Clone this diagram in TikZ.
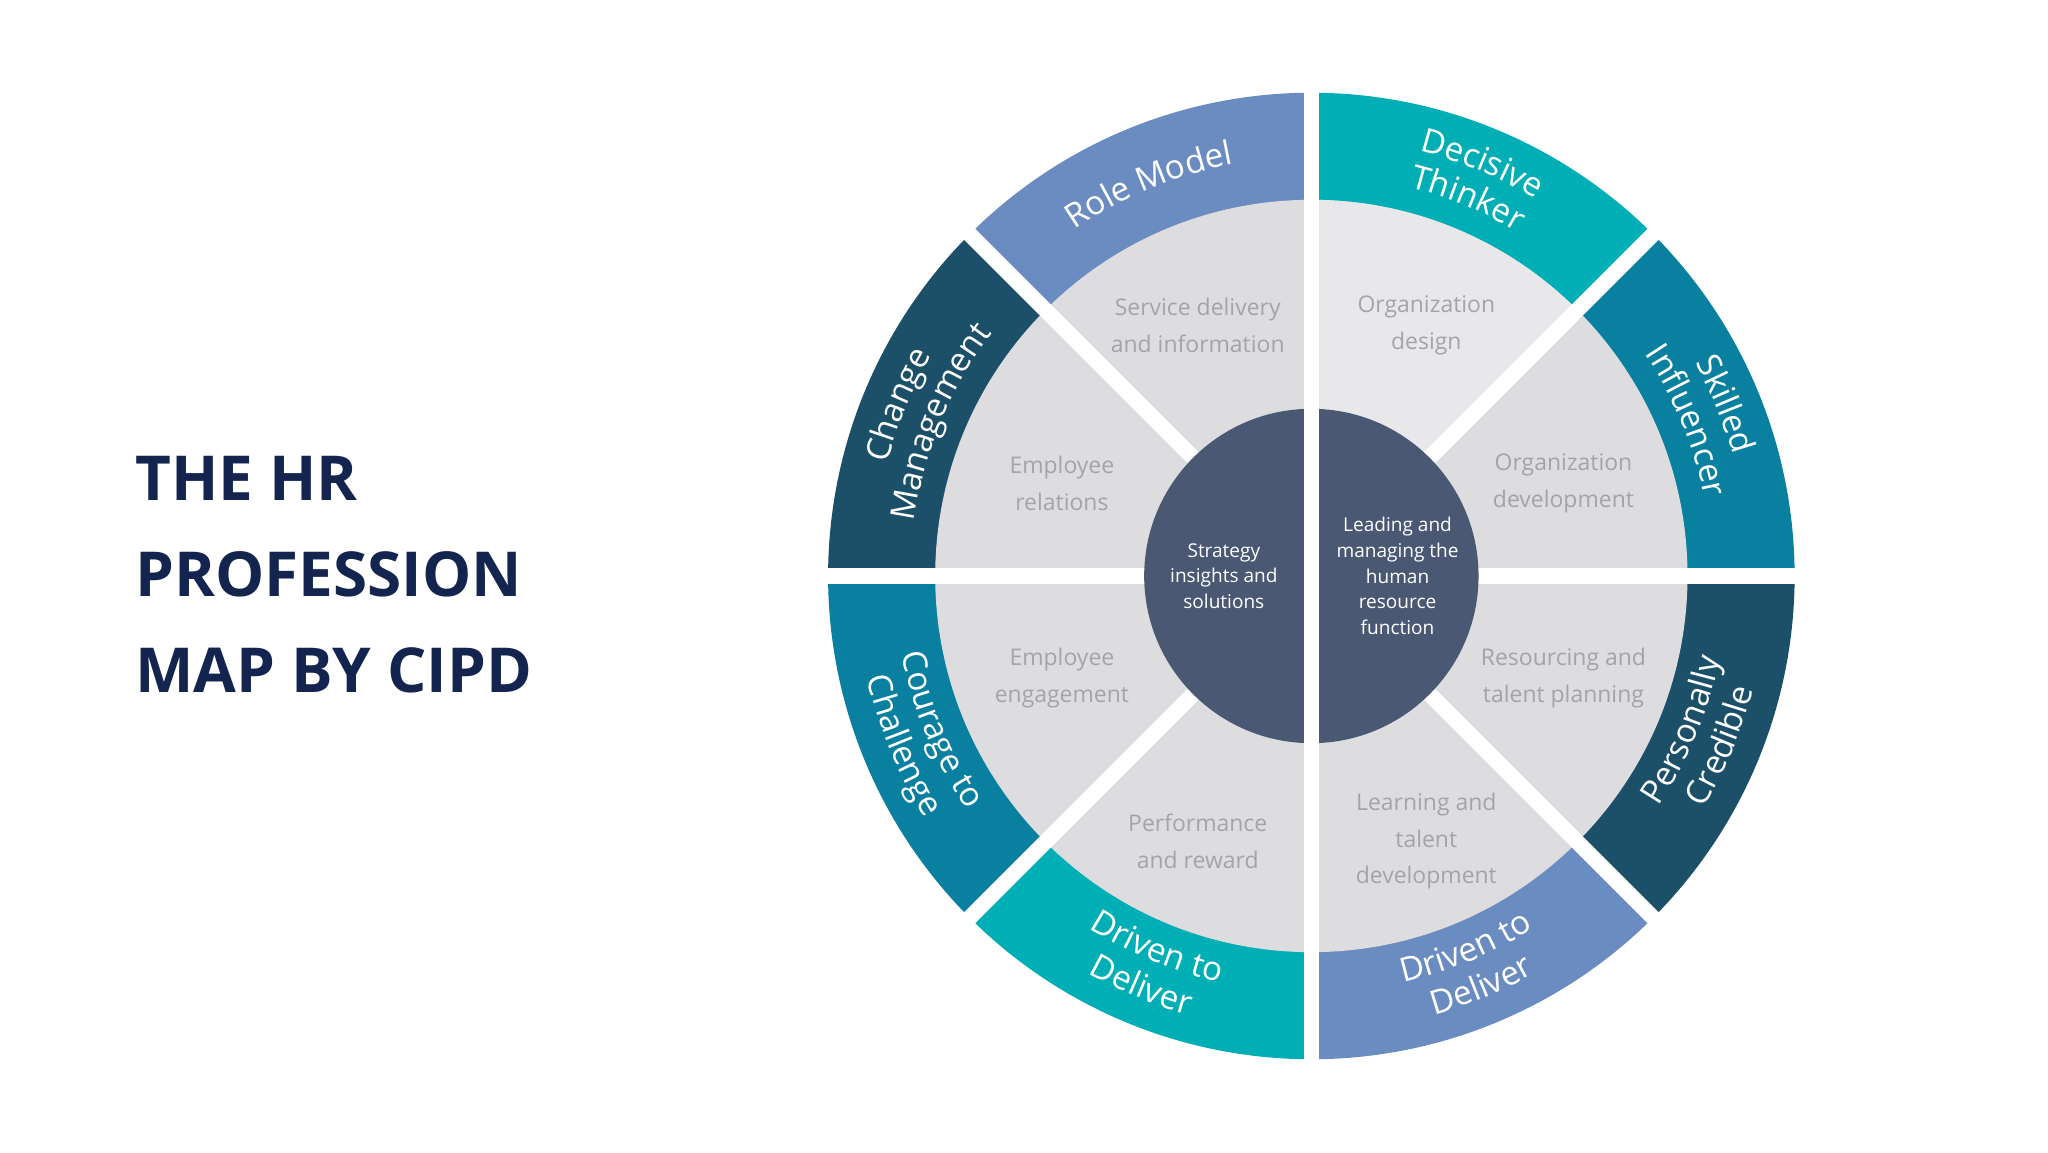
\documentclass[tikz,border=0pt]{standalone}
\usepackage{fontspec}
\setmainfont{Open Sans}
\usetikzlibrary{decorations.text,calc}
\definecolor{cRole}{HTML}{6B8CC0}
\definecolor{cDark}{HTML}{1B5068}
\definecolor{cMid}{HTML}{0A80A0}
\definecolor{cTeal}{HTML}{00AFB5}
\definecolor{cGray}{HTML}{DDDDE0}
\definecolor{cGrayL}{HTML}{E8E8EA}
\definecolor{cCen}{HTML}{4A5874}
\definecolor{cTxt}{HTML}{A3A3AB}
\definecolor{cTitle}{HTML}{13254F}
\newcommand\lblf{\fontsize{14.5}{14.5}\selectfont}
\begin{document}
\begin{tikzpicture}[
  arclbl/.style={decorate,decoration={text along path,text align=center,text color=white}},
  gtxt/.style={text=cTxt,font=\fontsize{10}{16}\selectfont,align=center},
  ctxt/.style={text=white,font=\fontsize{8.3}{11.2}\selectfont,align=center},
  gap/.style={draw=white,line width=0.24cm},
  ttl/.style={anchor=west,text=cTitle,font=\bfseries\fontsize{27}{27}\selectfont}
]
\useasboundingbox[fill=white] (0,0) rectangle (31.36,17.64);
\coordinate (C) at (20.08,8.82);
% outer ring
\foreach \a/\col in {90/cRole,135/cDark,180/cMid,225/cTeal,45/cTeal,0/cMid,-45/cDark,-90/cRole}{
  \fill[\col] (C) -- ++(\a:7.4) arc[start angle=\a,delta angle=45,radius=7.4] -- cycle;
}
% gray ring
\fill[cGray] (C) circle[radius=5.76];
\fill[cGrayL] (C) -- ++(45:5.76) arc[start angle=45,end angle=90,radius=5.76] -- cycle;
% gaps
\foreach \a in {45,135,225,315} \draw[gap] (C) -- ++(\a:7.7);
\coordinate (hl) at ($(C)+(-7.7,0)$);
\coordinate (hr) at ($(C)+(7.7,0)$);
\coordinate (vb) at ($(C)+(0,-7.7)$);
\coordinate (vt) at ($(C)+(0,7.7)$);
\draw[gap] (hl) -- (hr);
\fill[cCen] (C) circle[radius=2.56];
\draw[gap] (vb) -- (vt);
% arc labels (top: clockwise)
\path[arclbl,decoration={text={|\lblf|Role Model}}] (C) ++(132:6.42) arc[start angle=132,end angle=93,radius=6.42];
\path[arclbl,decoration={text={|\lblf|Change}}] (C) ++(178:6.72) arc[start angle=178,end angle=137,radius=6.72];
\path[arclbl,decoration={text={|\lblf|Management}}] (C) ++(180:6.14) arc[start angle=180,end angle=135,radius=6.14];
\path[arclbl,decoration={text={|\lblf|Decisive}}] (C) ++(88:6.72) arc[start angle=88,end angle=47,radius=6.72];
\path[arclbl,decoration={text={|\lblf|Thinker}}] (C) ++(88:6.14) arc[start angle=88,end angle=47,radius=6.14];
\path[arclbl,decoration={text={|\lblf|Skilled}}] (C) ++(43:6.72) arc[start angle=43,end angle=2,radius=6.72];
\path[arclbl,decoration={text={|\lblf|Influencer}}] (C) ++(45:6.14) arc[start angle=45,end angle=0,radius=6.14];
% bottom: counterclockwise
\path[arclbl,decoration={text={|\lblf|Courage to}}] (C) ++(182:6.38) arc[start angle=182,end angle=223,radius=6.38];
\path[arclbl,decoration={text={|\lblf|Challenge}}] (C) ++(182:6.98) arc[start angle=182,end angle=223,radius=6.98];
\path[arclbl,decoration={text={|\lblf|Driven to}}] (C) ++(227:6.38) arc[start angle=227,end angle=268,radius=6.38];
\path[arclbl,decoration={text={|\lblf|Deliver}}] (C) ++(227:6.98) arc[start angle=227,end angle=268,radius=6.98];
\path[arclbl,decoration={text={|\lblf|Driven to}}] (C) ++(272:6.38) arc[start angle=272,end angle=313,radius=6.38];
\path[arclbl,decoration={text={|\lblf|Deliver}}] (C) ++(272:6.98) arc[start angle=272,end angle=313,radius=6.98];
\path[arclbl,decoration={text={|\lblf|Personally}}] (C) ++(317:6.38) arc[start angle=317,end angle=358,radius=6.38];
\path[arclbl,decoration={text={|\lblf|Credible}}] (C) ++(317:6.98) arc[start angle=317,end angle=358,radius=6.98];
% gray labels
\node[gtxt] (sd) at ($(C)+(-1.74,3.84)$) {Service delivery\\and information};
\node[gtxt] (od) at ($(C)+(1.76,3.84)$) {Organization\\design};
\node[gtxt] (er) at ($(C)+(-3.82,1.42)$) {Employee\\relations};
\node[gtxt] (odev) at ($(C)+(3.86,1.42)$) {Organization\\development};
\node[gtxt] (ee) at ($(C)+(-3.82,-1.56)$) {Employee\\engagement};
\node[gtxt] (rtp) at ($(C)+(3.86,-1.56)$) {Resourcing and\\talent planning};
\node[gtxt] (pr) at ($(C)+(-1.74,-4.06)$) {Performance\\and reward};
\node[gtxt] (ltd) at ($(C)+(1.76,-4.06)$) {Learning and\\talent\\development};
\node[ctxt] (sis) at ($(C)+(-1.34,0)$) {Strategy\\insights and\\solutions};
\node[ctxt] (lmh) at ($(C)+(1.32,0)$) {Leading and\\managing the\\human\\resource\\function};
% title
\node[ttl] (t1) at (1.95,10.32) {THE HR};
\node[ttl] (t2) at (1.95,8.84) {PROFESSION};
\node[ttl] (t3) at (1.95,7.38) {MAP BY CIPD};
\end{tikzpicture}
\end{document}
